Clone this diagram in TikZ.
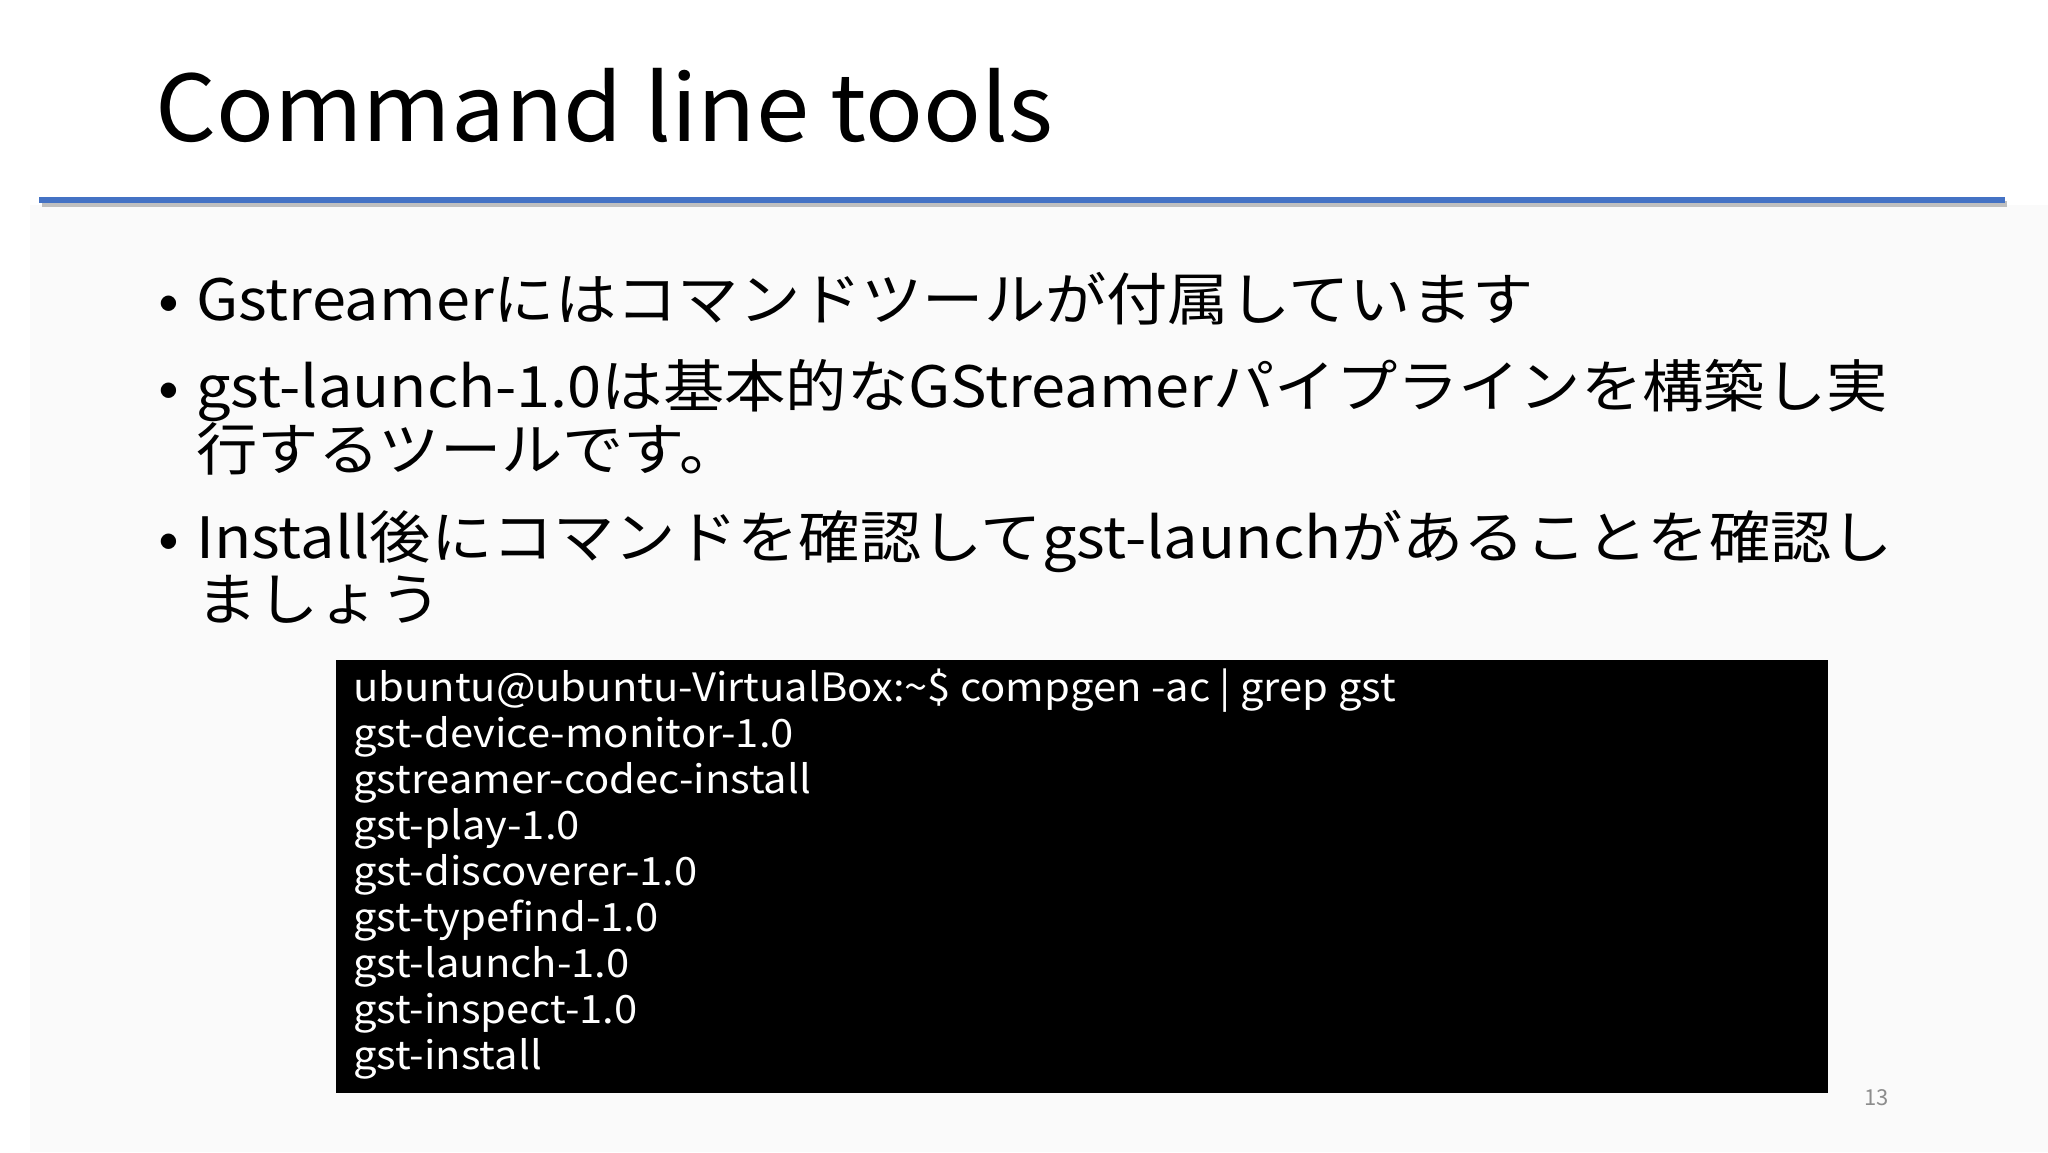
\documentclass[tikz,border=0pt]{standalone}
\usepackage{fontspec}
\setmainfont{Noto Sans CJK JP}
\usetikzlibrary{calc}
\definecolor{rule}{HTML}{4472C4}
\tikzset{
  bul/.style={anchor=base west, inner sep=0pt, xscale=1.075, transform shape, font=\fontsize{57}{60}\selectfont},
  term/.style={anchor=base west, inner sep=0pt, text=white, xscale=1.07, transform shape, font=\fontsize{39}{44}\selectfont},
}
\begin{document}
\begin{tikzpicture}[x=1pt,y=-1pt]
\useasboundingbox (0,0) rectangle (2048,1152);
\fill[white] (0,0) rectangle (2048,1152);
\fill[black!2] (30,205) rectangle (2048,1152);
\node[anchor=base west, inner sep=0pt, xscale=1.04, transform shape, font=\fontsize{92}{100}\selectfont] (title) at (155,141) {Command line tools};
\draw[black!25, line width=6pt] (42,204) -- (2007,204);
\draw[rule, line width=6pt] (39,200) coordinate (l0) -- (2005,200) coordinate (l1);
\node[bul] (b1) at (158,320) {•};
\node[bul] (t1) at (196,320) {Gstreamerにはコマンドツールが付属しています};
\node[bul] (b2) at (158,407) {•};
\node[bul] (t2) at (196,407) {gst-launch-1.0は基本的なGStreamerパイプラインを構築し実};
\node[bul] (t2b) at (196,470) {行するツールです。};
\node[bul] (b3) at (158,558) {•};
\node[bul] (t3) at (196,558) {Install後にコマンドを確認してgst-launchがあることを確認し};
\node[bul] (t3b) at (196,620) {ましょう};
\fill[black] (336,660) rectangle (1828,1093);
\foreach \t [count=\i from 0] in {ubuntu@ubuntu-VirtualBox:\textasciitilde\$ compgen -ac | grep gst,
 gst-device-monitor-1.0, gstreamer-codec-install, gst-play-1.0, gst-discoverer-1.0,
 gst-typefind-1.0, gst-launch-1.0, gst-inspect-1.0, gst-install}
  \node[term] (c\i) at (353,701+46*\i) {\t};
\node[anchor=base west, inner sep=0pt, text=black!45, font=\fontsize{22}{24}\selectfont] (pg) at (1864,1105) {13};
\end{tikzpicture}
\end{document}
